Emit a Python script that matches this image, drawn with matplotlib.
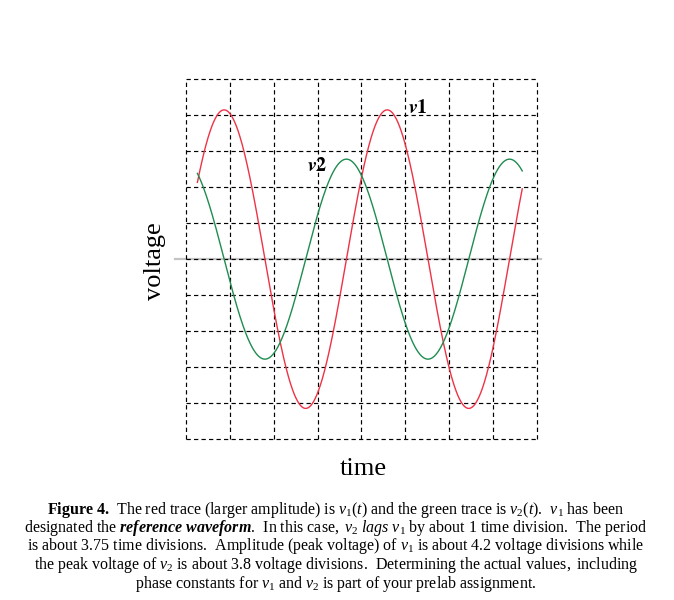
import numpy as np
import matplotlib
matplotlib.use("Agg")
import matplotlib.pyplot as plt

# ---- data (in grid divisions) ----
trace_names = ["v1", "v2"]
trace_colors = ["#ee3346", "#1f8c50"]
amplitudes = [4.15, 2.78]          # peak voltage (divisions)
periods = [3.72, 3.72]             # time divisions
peak_times = [0.87, 3.66]          # time of a positive peak (divisions)
t_start, t_end = 0.26, 7.67        # visible extent of traces
n_time_div = 8
n_volt_div = 10

label_pos = {"v1": (5.06, 4.06), "v2": (2.76, 2.44)}

caption_lines = [
    [("bf", "Figure 4."), ("rm", "  The red trace (larger amplitude) is "), ("v", "1"), ("it", "(t)"),
     ("rm", " and the green trace is "), ("v", "2"), ("it", "(t)"), ("rm", ".  "), ("v", "1"), ("rm", " has been")],
    [("rm", "designated the "), ("bfit", "reference waveform"), ("rm", ".  In this case, "), ("v", "2"),
     ("rm", " "), ("it", "lags"), ("rm", " "), ("v", "1"), ("rm", " by about 1 time division.  The period")],
    [("rm", "is about 3.75 time divisions.  Amplitude (peak voltage) of "), ("v", "1"),
     ("rm", " is about 4.2 voltage divisions while")],
    [("rm", "the peak voltage of "), ("v", "2"),
     ("rm", " is about 3.8 voltage divisions.  Determining the actual values, including")],
    [("rm", "phase constants for "), ("v", "1"), ("rm", " and "), ("v", "2"),
     ("rm", " is part of your prelab assignment.")],
]

plt.rcParams["mathtext.fontset"] = "custom"
plt.rcParams["mathtext.rm"] = "Liberation Serif"
plt.rcParams["mathtext.it"] = "Liberation Serif:italic"
plt.rcParams["mathtext.bf"] = "Liberation Serif:bold"
try:
    plt.rcParams["mathtext.bfit"] = "Liberation Serif:italic:bold"
except KeyError:
    pass
plt.rcParams["lines.scale_dashes"] = False

W, H = 674, 600
fig = plt.figure(figsize=(W / 100, H / 100), dpi=100)
x0, x1, ytop, ybot = 186, 536.7, 79.3, 439
ax = fig.add_axes([x0 / W, 1 - ybot / H, (x1 - x0) / W, (ybot - ytop) / H])
ax.set_xlim(0, n_time_div)
ax.set_ylim(-n_volt_div / 2, n_volt_div / 2)
ax.axis("off")

# center gray line
ax.plot([-0.25, 8.1], [0, 0], color="#c4c4c4", lw=1.6, clip_on=False, zorder=1)
# dashed grid
dash = (3.1, 2.3)
for xv in range(n_time_div + 1):
    ax.plot([xv, xv], [-n_volt_div / 2, n_volt_div / 2], color="black", lw=0.85,
            dashes=dash, clip_on=False, zorder=2)
for yv in range(-n_volt_div // 2, n_volt_div // 2 + 1):
    ax.plot([0, n_time_div], [yv, yv], color="black", lw=0.85,
            dashes=dash, clip_on=False, zorder=2)

t = np.linspace(t_start, t_end, 800)
for name, col, A, P, tp in zip(trace_names, trace_colors, amplitudes, periods, peak_times):
    ax.plot(t, A * np.cos(2 * np.pi * (t - tp) / P), color=col, lw=1.0, zorder=3)

for name in trace_names:
    lx, ly = label_pos[name]
    ax.text(lx, ly, r"$\mathbfit{v}\mathbf{%s}$" % name[1:], math_fontfamily="stix",
            fontsize=14.5, ha="left", va="baseline", zorder=4)

# axis labels
fig.text(155 / W, 1 - 261 / H, "voltage", rotation=90, family="Liberation Serif",
         fontsize=19, ha="center", va="center")
fig.text(363.5 / W, 1 - 475 / H, "time", family="Liberation Serif",
         fontsize=19, ha="center", va="baseline")

# caption
def chunk(style, s):
    if style == "v":
        return r"\mathit{v}_{\mathit{%s}}" % s
    s = s.replace("  ", "\x00").replace(" ", r"\ ").replace("\x00", r"\ \,")
    return r"\math%s{%s}" % (style, s)

baselines = [513.5, 532, 550.5, 569, 587.5]
for line, yb in zip(caption_lines, baselines):
    txt = "$" + "".join(chunk(st, s) for st, s in line) + "$"
    fig.text(336 / W, 1 - yb / H, txt, fontsize=11.5, ha="center", va="baseline")

fig.savefig("out.png", dpi=100)
